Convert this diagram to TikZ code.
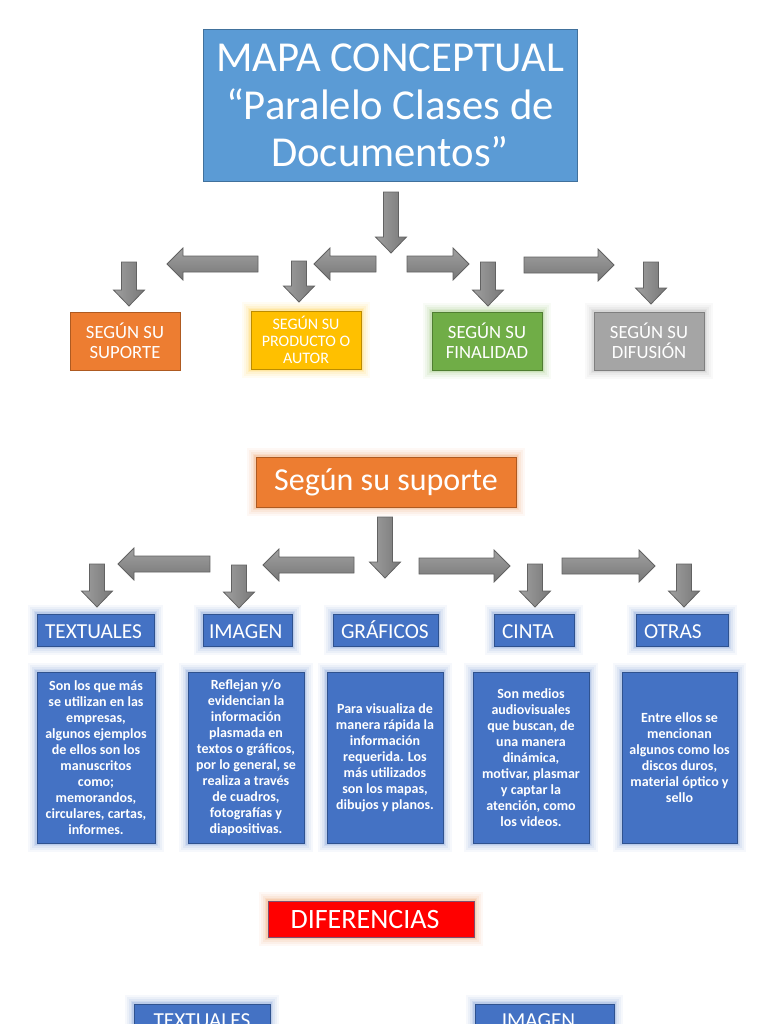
\documentclass[tikz,border=0pt]{standalone}
\usepackage{fontspec}
\setmainfont{Carlito}
\definecolor{tblue}{HTML}{5B9BD5}
\definecolor{tblueb}{HTML}{41719C}
\definecolor{orng}{HTML}{ED7D31}
\definecolor{orngb}{HTML}{AE5A21}
\definecolor{orngg}{HTML}{F4B183}
\definecolor{ylw}{HTML}{FFC000}
\definecolor{ylwb}{HTML}{BC8C00}
\definecolor{ylwg}{HTML}{FFD966}
\definecolor{grn}{HTML}{70AD47}
\definecolor{grnb}{HTML}{507E32}
\definecolor{grng}{HTML}{A9D18E}
\definecolor{gry}{HTML}{A5A5A5}
\definecolor{gryb}{HTML}{7F7F7F}
\definecolor{gryg}{HTML}{BFBFBF}
\definecolor{dblue}{HTML}{4472C4}
\definecolor{dblueb}{HTML}{2F528F}
\definecolor{dblueg}{HTML}{8FAADC}
\definecolor{rd}{HTML}{FF0000}
\definecolor{rdb}{HTML}{7F4F6F}
\definecolor{arrl}{HTML}{A0A0A0}
\definecolor{arrk}{HTML}{777777}
\definecolor{arrd}{HTML}{626262}
\newcommand\fz[2]{\fontsize{#1}{#2}\selectfont}
\newcommand\harr[3]{%
  \pgfmathsetmacro\hb{#2>#3 ? #3+16 : #3-16}%
  \draw[hblk] (#2,#1-8) -- (\hb,#1-8) -- (\hb,#1-16) -- (#3,#1) -- (\hb,#1+16) -- (\hb,#1+8) -- (#2,#1+8) -- cycle;}
\newcommand\varr[3]{%
  \pgfmathsetmacro\vb{#3-16}%
  \draw[vblk] (#1-7.5,#2) -- (#1+7.5,#2) -- (#1+7.5,\vb) -- (#1+15.5,\vb) -- (#1,#3) -- (#1-15.5,\vb) -- (#1-7.5,\vb) -- cycle;}
% box: options, name, x1, y1, x2, y2, text
\newcommand\bnode[7]{%
  \pgfmathsetmacro\bcx{(#3+#5)/2}%
  \pgfmathsetmacro\bcy{(#4+#6)/2}%
  \pgfmathsetmacro\bw{(#5-#3)*0.75}%
  \pgfmathsetmacro\bh{(#6-#4)*0.75}%
  \node[#1, minimum width=\bw pt, minimum height=\bh pt] (#2) at (\bcx,\bcy) {#7};}
\tikzset{
  glow/.style={preaction={draw=#1,line width=14pt,draw opacity=0.08,rounded corners=6pt},
               preaction={draw=#1,line width=11pt,draw opacity=0.1,rounded corners=4pt},
               preaction={draw=#1,line width=8pt,draw opacity=0.14,rounded corners=2pt},
               preaction={draw=#1,line width=5pt,draw opacity=0.2},
               preaction={draw=#1,line width=2.5pt,draw opacity=0.3}},
  bx/.style={inner sep=0pt, align=center, text=white, line width=0.75pt},
  blk/.style={draw=arrd, line width=0.6pt, line join=miter},
  hblk/.style={blk, top color=arrl, bottom color=arrk},
  vblk/.style={blk, left color=arrl, right color=arrk},
  ttl/.style={bx, fill=dblue, draw=dblueb, glow=dblueg, align=left, font=\fz{16}{18},
    execute at begin node=\vphantom{Á}},
  desc/.style={bx, fill=dblue, draw=dblueb, glow=dblueg, font=\fz{10.5}{12}\bfseries},
}
\begin{document}
\begin{tikzpicture}[x=0.75pt,y=-0.75pt]
\useasboundingbox (0,0) rectangle (768,1024);
\fill[white] (0,0) rectangle (768,1024);
\begin{scope}
\clip (0,0) rectangle (768,1024);
% title
\bnode{bx, fill=tblue, draw=tblueb, font=\fz{32}{35.5}}{title}{203}{30}{577}{181}
  {MAPA CONCEPTUAL\\ “Paralelo Clases de\\Documentos”}
% row 1
\bnode{bx, fill=orng, draw=orngb, font=\fz{14}{15}}{sop}{70}{312}{180}{370}{SEGÚN SU\\SUPORTE}
\bnode{bx, fill=ylw, draw=ylwb, glow=ylwg, font=\fz{12}{13}}{prod}{251}{311}{361}{369}{SEGÚN SU\\PRODUCTO O\\AUTOR}
\bnode{bx, fill=grn, draw=grnb, glow=grng, font=\fz{14}{15}}{fin}{432}{312}{542}{370}{SEGÚN SU\\FINALIDAD}
\bnode{bx, fill=gry, draw=gryb, glow=gryg, font=\fz{14}{15}}{dif}{594}{312}{704}{370}{SEGÚN SU\\DIFUSIÓN}
% section 2 header
\bnode{bx, fill=orng, draw=orngb, glow=orngg, font=\fz{24}{26}}{hdr}{256}{457}{516}{507}{Según su suporte}
% titles
\bnode{ttl, text width=75.75pt}{t1}{37}{614}{154}{646}{TEXTUALES}
\bnode{ttl, text width=57.75pt}{t2}{203}{614}{292}{646}{IMAGEN}
\bnode{ttl, text width=66.75pt}{t3}{333}{614}{438}{646}{GRÁFICOS}
\bnode{ttl, text width=48pt}{t4}{494}{614}{574}{646}{CINTA}
\bnode{ttl, text width=57pt}{t5}{636}{614}{728}{646}{OTRAS}
% descriptions
\bnode{desc}{d1}{37}{672}{155}{843}{Son los que más\\se utilizan en las\\empresas,\\algunos ejemplos\\de ellos son los\\manuscritos\\como;\\memorandos,\\circulares, cartas,\\informes.}
\bnode{desc}{d2}{188}{672}{304}{843}{Reflejan y/o\\evidencian la\\información\\plasmada en\\textos o gráficos,\\por lo general, se\\realiza a través\\de cuadros,\\fotografías y\\diapositivas.}
\bnode{desc}{d3}{327}{672}{443}{843}{Para visualiza de\\manera rápida la\\información\\requerida. Los\\más utilizados\\son los mapas,\\dibujos y planos.}
\bnode{desc}{d4}{473}{672}{589}{843}{Son medios\\audiovisuales\\que buscan, de\\una manera\\dinámica,\\motivar, plasmar\\y captar la\\atención, como\\los videos.}
\bnode{desc}{d5}{622}{672}{737}{843}{Entre ellos se\\mencionan\\algunos como los\\discos duros,\\material óptico y\\sello}
% diferencias
\bnode{bx, fill=rd, draw=rdb, glow=orngg, font=\fz{21}{23}}{dife}{268}{901}{474}{937}{DIFERENCIAS\hspace*{9pt}}
\bnode{bx, fill=dblue, draw=dblueb, glow=dblueg, font=\fz{16}{18}}{bt}{134}{1004}{270}{1038}{TEXTUALES}
\bnode{bx, fill=dblue, draw=dblueb, glow=dblueg, font=\fz{16}{18}}{bi}{475}{1004}{614}{1038}{IMAGEN\hspace*{9pt}}
% arrows section 1
\varr{391}{192}{253}
\harr{264}{258}{167}
\harr{264}{376}{314}
\harr{264}{407}{469}
\harr{265}{524}{614}
\varr{129}{262}{306}
\varr{299}{261}{302}
\varr{488}{262}{306}
\varr{651}{262}{304}
% arrows section 2
\varr{385}{517}{578}
\harr{564}{210}{118}
\harr{565}{354}{263}
\harr{566}{419}{510}
\harr{566}{562}{655}
\varr{97}{564}{607}
\varr{239}{565}{608}
\varr{535}{564}{607}
\varr{684}{564}{607}
\end{scope}
\end{tikzpicture}
\end{document}
